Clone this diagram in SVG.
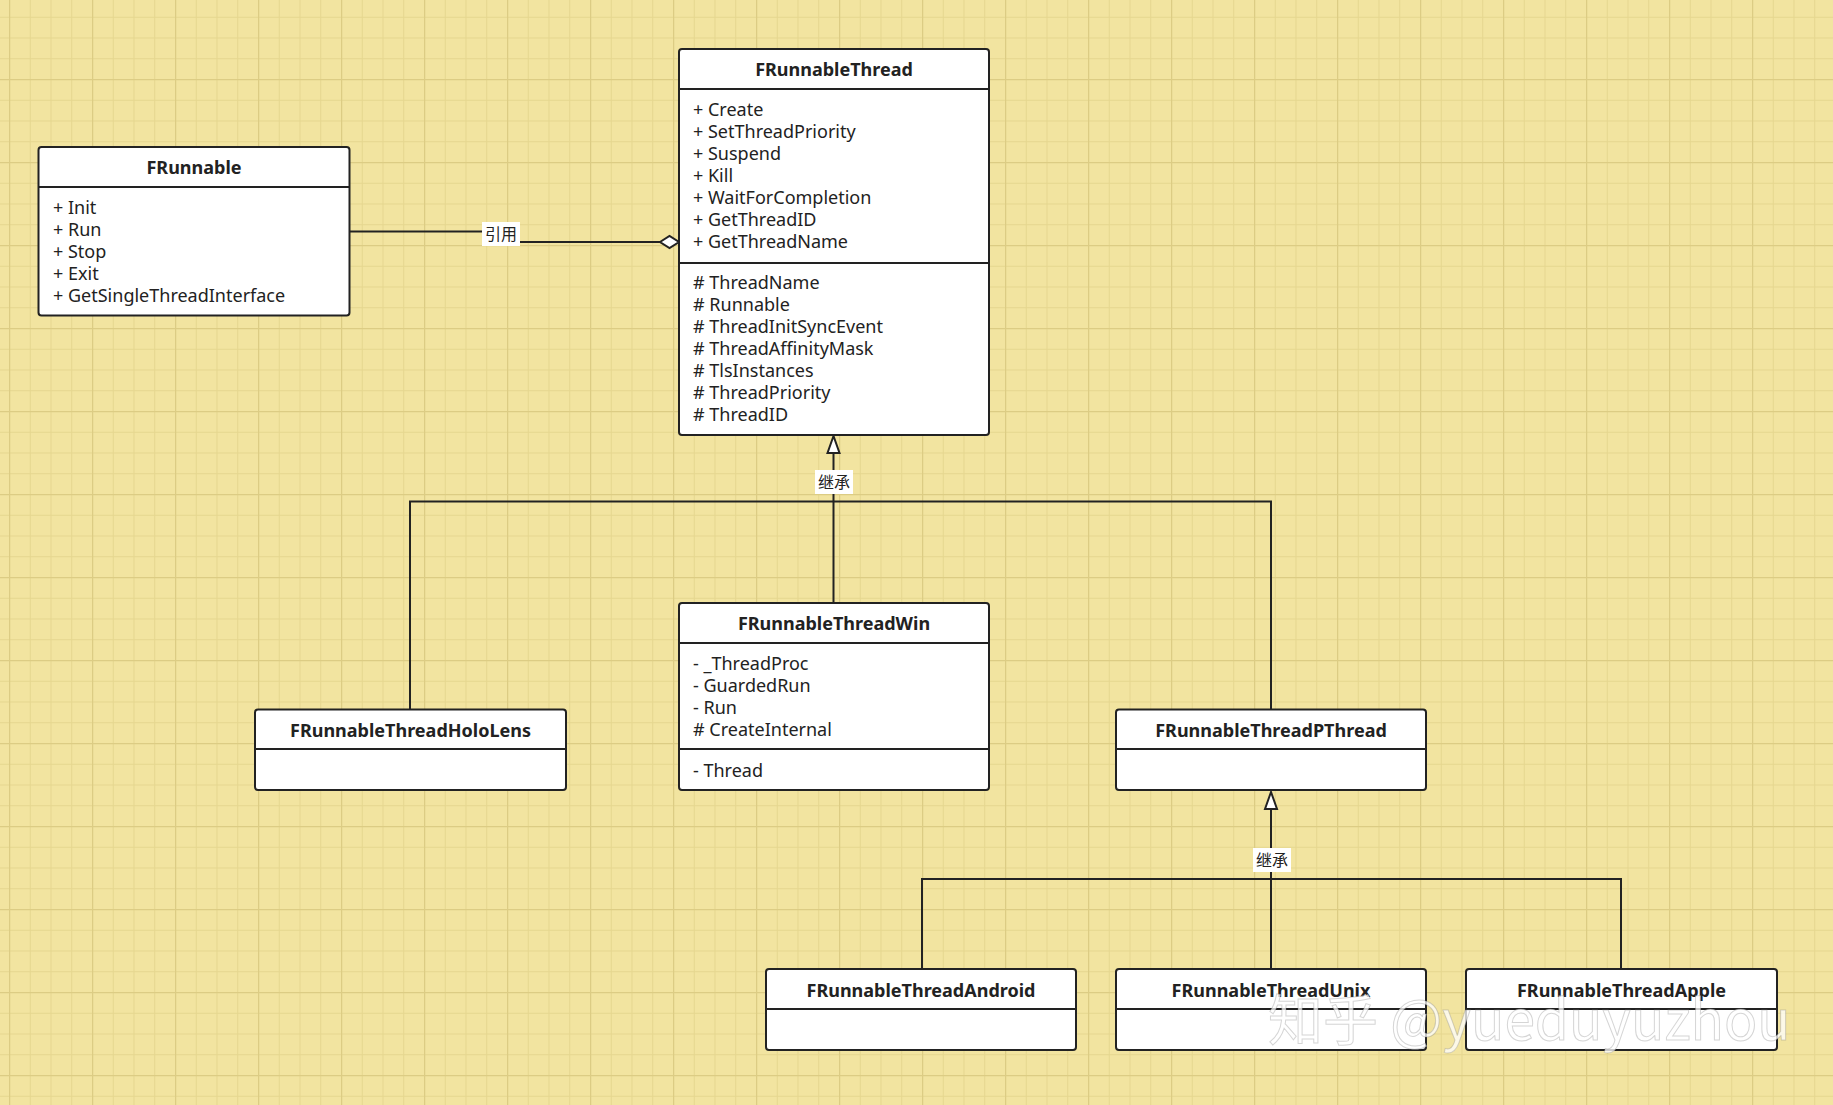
<svg xmlns="http://www.w3.org/2000/svg" width="1833" height="1105" viewBox="0 0 1833 1105">
<defs>
<pattern id="minor" x="9" y="-4" width="20.75" height="20.75" patternUnits="userSpaceOnUse">
<path d="M0 0V20.75M0 0H20.75" fill="none" stroke="#e5d68f" stroke-width="2"/>
</pattern>
<pattern id="major" x="9" y="-4" width="83" height="83" patternUnits="userSpaceOnUse">
<path d="M0 0V83M0 0H83" fill="none" stroke="#dccc84" stroke-width="2.5"/>
</pattern>
</defs>
<style>
.box{fill:#fff;stroke:#222;stroke-width:2}
.sep{stroke:#222;stroke-width:2}
.t{font-family:"Noto Sans","Open Sans",sans-serif;font-size:18px;fill:#222}
.h{font-family:"Noto Sans","Open Sans",sans-serif;font-size:18px;font-weight:bold;fill:#222;text-anchor:middle}
.e{fill:none;stroke:#222;stroke-width:2}
.lbl{font-family:"Noto Sans CJK SC",sans-serif;font-size:16px;fill:#222;text-anchor:middle}
</style>
<rect width="1833" height="1105" fill="#f2e4a0"/>
<rect width="1833" height="1105" fill="url(#minor)"/>
<rect width="1833" height="1105" fill="url(#major)"/>

<g id="edges">
<path class="e" d="M349.5 231.5H500V242H660"/>
<polygon points="660,242 669.5,236 679,242 669.5,248" fill="#fff" stroke="#222" stroke-width="2"/>
<path class="e" d="M833.5 453V603M410 709.5V501.5H1271V709.5"/>
<polygon points="833.5,436 827.5,453 839.5,453" fill="#fff" stroke="#222" stroke-width="2"/>
<path class="e" d="M1271 809V969M922 969V879H1621V969"/>
<polygon points="1271,792 1265,809 1277,809" fill="#fff" stroke="#222" stroke-width="2"/>
<rect x="482" y="222" width="38" height="24" fill="#fff"/>
<text class="lbl" x="501" y="240">引用</text>
<rect x="815" y="470" width="38" height="24" fill="#fff"/>
<text class="lbl" x="834" y="488">继承</text>
<rect x="1253" y="848" width="38" height="24" fill="#fff"/>
<text class="lbl" x="1272" y="866">继承</text>
</g>

<g id="FRunnable">
<rect class="box" x="38.5" y="147" width="311" height="168.5" rx="3"/>
<line class="sep" x1="38.5" y1="187" x2="349.5" y2="187"/>
<text class="h" x="194" y="174">FRunnable</text>
<text class="t" x="53" y="214">+ Init</text>
<text class="t" x="53" y="236">+ Run</text>
<text class="t" x="53" y="258">+ Stop</text>
<text class="t" x="53" y="280">+ Exit</text>
<text class="t" x="53" y="302">+ GetSingleThreadInterface</text>
</g>

<g id="FRunnableThread">
<rect class="box" x="679" y="49" width="310" height="386" rx="3"/>
<line class="sep" x1="679" y1="89" x2="989" y2="89"/>
<line class="sep" x1="679" y1="263" x2="989" y2="263"/>
<text class="h" x="834" y="76">FRunnableThread</text>
<text class="t" x="693" y="116">+ Create</text>
<text class="t" x="693" y="138">+ SetThreadPriority</text>
<text class="t" x="693" y="160">+ Suspend</text>
<text class="t" x="693" y="182">+ Kill</text>
<text class="t" x="693" y="204">+ WaitForCompletion</text>
<text class="t" x="693" y="226">+ GetThreadID</text>
<text class="t" x="693" y="248">+ GetThreadName</text>
<text class="t" x="693" y="289"># ThreadName</text>
<text class="t" x="693" y="311"># Runnable</text>
<text class="t" x="693" y="333"># ThreadInitSyncEvent</text>
<text class="t" x="693" y="355"># ThreadAffinityMask</text>
<text class="t" x="693" y="377"># TlsInstances</text>
<text class="t" x="693" y="399"># ThreadPriority</text>
<text class="t" x="693" y="421"># ThreadID</text>
</g>

<g id="FRunnableThreadHoloLens">
<rect class="box" x="255" y="709.5" width="311" height="80.5" rx="3"/>
<line class="sep" x1="255" y1="749" x2="566" y2="749"/>
<text class="h" x="410.5" y="737">FRunnableThreadHoloLens</text>
</g>

<g id="FRunnableThreadWin">
<rect class="box" x="679" y="603" width="310" height="187" rx="3"/>
<line class="sep" x1="679" y1="643" x2="989" y2="643"/>
<line class="sep" x1="679" y1="749" x2="989" y2="749"/>
<text class="h" x="834" y="630">FRunnableThreadWin</text>
<text class="t" x="693" y="670">- _ThreadProc</text>
<text class="t" x="693" y="692">- GuardedRun</text>
<text class="t" x="693" y="714">- Run</text>
<text class="t" x="693" y="736"># CreateInternal</text>
<text class="t" x="693" y="777">- Thread</text>
</g>

<g id="FRunnableThreadPThread">
<rect class="box" x="1116" y="709.5" width="310" height="80.5" rx="3"/>
<line class="sep" x1="1116" y1="749" x2="1426" y2="749"/>
<text class="h" x="1271" y="737">FRunnableThreadPThread</text>
</g>

<g id="FRunnableThreadAndroid">
<rect class="box" x="766" y="969" width="310" height="81" rx="3"/>
<line class="sep" x1="766" y1="1009" x2="1076" y2="1009"/>
<text class="h" x="921" y="997">FRunnableThreadAndroid</text>
</g>

<g id="FRunnableThreadUnix">
<rect class="box" x="1116" y="969" width="310" height="81" rx="3"/>
<line class="sep" x1="1116" y1="1009" x2="1426" y2="1009"/>
<text class="h" x="1271" y="997">FRunnableThreadUnix</text>
</g>

<g id="FRunnableThreadApple">
<rect class="box" x="1466" y="969" width="311" height="81" rx="3"/>
<line class="sep" x1="1466" y1="1009" x2="1777" y2="1009"/>
<text class="h" x="1621.5" y="997">FRunnableThreadApple</text>
</g>

<text x="1268" y="1040" font-family="Noto Sans CJK SC, sans-serif" font-size="55" fill="#fff" fill-opacity="0.75" stroke="#888" stroke-opacity="0.35" stroke-width="1">知乎 @yueduyuzhou</text>
</svg>
